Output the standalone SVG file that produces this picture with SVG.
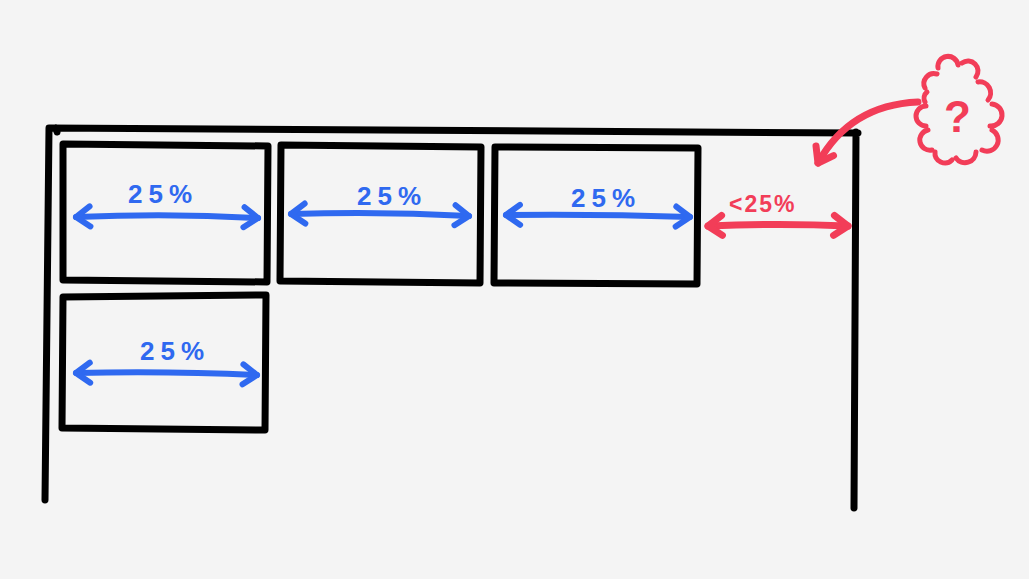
<svg xmlns="http://www.w3.org/2000/svg" width="1029" height="579" viewBox="0 0 1029 579">
<style>
.frame{fill:none;stroke:#000;stroke-width:7;stroke-linecap:round;stroke-linejoin:round}
.box{fill:none;stroke:#000;stroke-width:7;stroke-linejoin:round}
.blue{fill:none;stroke:#2f69f0;stroke-width:6;stroke-linecap:round}
.red{fill:none;stroke:#f23d58;stroke-width:7;stroke-linecap:round}
.bt{font-family:"Liberation Sans",Arial,sans-serif;font-weight:bold;font-size:26px;fill:#2f69f0;letter-spacing:6px}
.rt{font-family:"Liberation Sans",Arial,sans-serif;font-weight:bold;font-size:23px;fill:#f23d58;letter-spacing:2px}
</style>
<defs>
<marker id="hb" viewBox="0 0 24 24" refX="16" refY="12" markerWidth="24" markerHeight="24" orient="auto-start-reverse" markerUnits="userSpaceOnUse" overflow="visible">
<path d="M2,2 L16,12 L2,22" fill="none" stroke="#2f69f0" stroke-width="6" stroke-linecap="round" stroke-linejoin="round"/>
</marker>
<marker id="hr" viewBox="0 0 24 24" refX="16" refY="12" markerWidth="24" markerHeight="24" orient="auto-start-reverse" markerUnits="userSpaceOnUse" overflow="visible">
<path d="M2,2 L16,12 L2,22" fill="none" stroke="#f23d58" stroke-width="7" stroke-linecap="round" stroke-linejoin="round"/>
</marker>
</defs>
<rect width="1029" height="579" fill="#f4f4f4"/>
<g id="container">
<path class="frame" d="M56,128 L57,132 M45,500 L49,128 L858,133 M856,132 L854,508"/>
</g>
<g id="box1">
<path class="box" d="M63,144 L268,146 L267,282 L63,280 Z"/>
<text class="bt" x="128" y="203">25%</text>
</g>
<g id="box2">
<path class="box" d="M281,145 L481,147 L480,283 L280,281 Z"/>
<text class="bt" x="357" y="205">25%</text>
</g>
<g id="box3">
<path class="box" d="M495,147 L698,148 L697,284 L494,283 Z"/>
<text class="bt" x="571" y="207">25%</text>
</g>
<g id="box4">
<path class="box" d="M63,297 L266,295 L265,430 L62,428 Z"/>
<text class="bt" x="140" y="360">25%</text>
</g>
<g id="remainder">
<text class="rt" x="729" y="212">&lt;25%</text>
</g>
<g id="question">
<path fill="none" stroke="#f23d58" stroke-width="5" stroke-linecap="round" d="M925,88 a10,10 0 0 1 12,-14 M938,68 a10,10 0 0 1 20,-3 M962,63 a10,10 0 0 1 14,14 M978,82 a11,11 0 0 1 10,18 M992,104 a11,11 0 0 1 -2,22 M992,130 a11,11 0 0 1 -10,20 M976,152 a11,11 0 0 1 -20,6 M952,160 a10,10 0 0 1 -17,-8 M932,150 a10,10 0 0 1 -4,-20 M926,126 a10,10 0 0 1 0,-20 M925,102 a8,8 0 0 1 2,-10"/>
<text x="944" y="132" font-family="Liberation Sans,Arial,sans-serif" font-weight="bold" font-size="44" fill="#f23d58">?</text>
</g>
<g id="connectors">
<path class="blue" d="M76,217 Q170,213 258,218" marker-start="url(#hb)" marker-end="url(#hb)"/>
<path class="blue" d="M291,214 Q380,211 469,216" marker-start="url(#hb)" marker-end="url(#hb)"/>
<path class="blue" d="M506,215 Q600,214 690,217" marker-start="url(#hb)" marker-end="url(#hb)"/>
<path class="blue" d="M76,373 Q170,371 257,375" marker-start="url(#hb)" marker-end="url(#hb)"/>
<path class="red" d="M708,226 Q780,223 848,226" marker-start="url(#hr)" marker-end="url(#hr)"/>
<path class="red" d="M918,102 Q850,105 818,163" marker-end="url(#hr)"/>
</g>
</svg>
